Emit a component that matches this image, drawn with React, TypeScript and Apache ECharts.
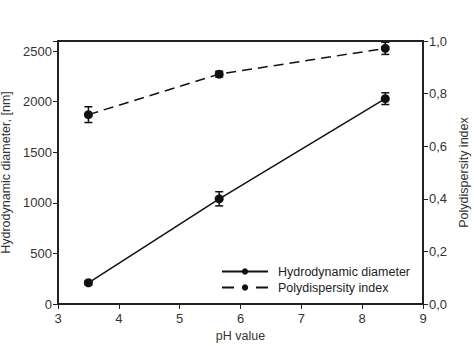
import React, { useEffect, useRef } from "react";
import * as echarts from "echarts";

const phValues = [3.5, 5.65, 8.38];
const diameter = [210, 1040, 2030];
const diameterErr = [20, 70, 58];
const pdi = [0.72, 0.874, 0.972];
const pdiErr = [0.03, 0.011, 0.023];
const xTicks = [3, 4, 5, 6, 7, 8, 9];

const FONT = "Liberation Sans, Arial, sans-serif";

function errorSeries(vals: number[], errs: number[], yAxisIndex: number) {
  return {
    type: "custom",
    yAxisIndex,
    silent: true,
    z: 5,
    data: phValues.map((x, i) => [x, vals[i] - errs[i], vals[i] + errs[i]]),
    renderItem: (params: any, api: any) => {
      const x = api.value(0);
      const lo = api.coord([x, api.value(1)]);
      const hi = api.coord([x, api.value(2)]);
      const hw = 4;
      const style = { stroke: "#111", lineWidth: 1.5 };
      return {
        type: "group",
        children: [
          { type: "line", shape: { x1: lo[0], y1: lo[1], x2: hi[0], y2: hi[1] }, style },
          { type: "line", shape: { x1: lo[0] - hw, y1: lo[1], x2: lo[0] + hw, y2: lo[1] }, style },
          { type: "line", shape: { x1: hi[0] - hw, y1: hi[1], x2: hi[0] + hw, y2: hi[1] }, style },
        ],
      };
    },
  };
}

export default function App() {
  const ref = useRef<HTMLDivElement>(null);
  useEffect(() => {
    const chart = echarts.init(ref.current!, null, { renderer: "svg" });
    const axisLine = { lineStyle: { color: "#222", width: 2 } };
    const axisTick = { inside: false, length: 5, lineStyle: { color: "#222", width: 1 } };
    const axisLabel = { color: "#333", fontSize: 13, fontFamily: FONT };
    chart.setOption({
      animation: false,
      backgroundColor: "#fff",
      grid: {
        left: 58,
        right: 51,
        top: 41,
        bottom: 43,
        containLabel: false,
        outerBoundsMode: "none",
        show: true,
        borderColor: "#222",
        borderWidth: 2,
      },
      legend: {
        orient: "vertical",
        left: 216,
        top: 260,
        itemWidth: 46,
        itemHeight: 8,
        itemGap: 3,
        textStyle: { color: "#222", fontSize: 12.5, fontFamily: FONT, padding: [0, 0, 0, 5] },
        data: [
          { name: "Hydrodynamic diameter" },
          { name: "Polydispersity index", lineStyle: { type: [12, 22] } },
        ],
      },
      xAxis: {
        type: "value",
        min: 3,
        max: 9,
        interval: 1,
        name: "pH value",
        nameLocation: "middle",
        nameGap: 25,
        nameTextStyle: { color: "#333", fontSize: 12.5, fontFamily: FONT },
        axisLine,
        axisTick,
        axisLabel: { ...axisLabel, margin: 8, formatter: (v: number) => (xTicks.includes(v) ? String(v) : "") },
        splitLine: { show: false },
      },
      yAxis: [
        {
          type: "value",
          min: 0,
          max: 2600,
          interval: 500,
          name: "Hydrodynamic diameter, [nm]",
          nameLocation: "middle",
          nameGap: 39,
          nameTextStyle: { color: "#333", fontSize: 12.5, fontFamily: FONT },
          axisLine,
          axisTick,
          axisLabel: { ...axisLabel, margin: 6, formatter: (v: number) => (v % 500 === 0 ? String(v) : "") },
          splitLine: { show: false },
        },
        {
          type: "value",
          min: 0,
          max: 1,
          interval: 0.2,
          position: "right",
          name: "Polydispersity index",
          nameLocation: "middle",
          nameGap: 33,
          nameRotate: 90,
          nameTextStyle: { color: "#333", fontSize: 12.5, fontFamily: FONT },
          axisLine,
          axisTick,
          axisLabel: { ...axisLabel, margin: 6, formatter: (v: number) => v.toFixed(1).replace(".", ",") },
          splitLine: { show: false },
        },
      ],
      series: [
        {
          name: "Hydrodynamic diameter",
          type: "line",
          yAxisIndex: 0,
          data: phValues.map((x, i) => [x, diameter[i]]),
          symbol: "circle",
          symbolSize: 9,
          itemStyle: { color: "#111" },
          lineStyle: { color: "#111", width: 1.5, type: "solid" },
          z: 6,
        },
        {
          name: "Polydispersity index",
          type: "line",
          yAxisIndex: 1,
          data: phValues.map((x, i) => [x, pdi[i]]),
          symbol: "circle",
          symbolSize: 9,
          itemStyle: { color: "#111" },
          lineStyle: { color: "#111", width: 1.5, type: [10, 6] },
          z: 6,
        },
        errorSeries(diameter, diameterErr, 0),
        errorSeries(pdi, pdiErr, 1),
      ],
    });
    return () => chart.dispose();
  }, []);
  return <div ref={ref} style={{ width: 474, height: 347, position: "absolute", left: 0, top: 0 }} />;
}
